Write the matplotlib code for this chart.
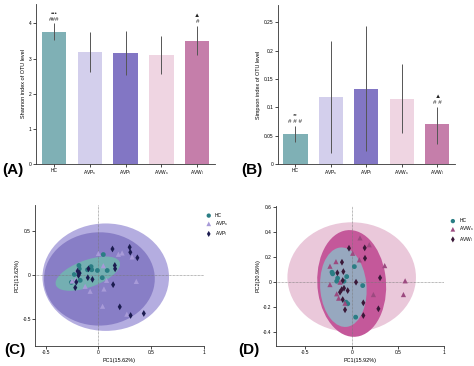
import numpy as np
import matplotlib
matplotlib.use("Agg")
import matplotlib.pyplot as plt
from matplotlib.patches import Ellipse

plt.rcParams['font.family'] = ['Liberation Sans', 'DejaVu Sans']

# Bar data
groups = ['HC', 'AVP$_s$', 'AVP$_l$', 'AVW$_s$', 'AVW$_l$']
bar_colors = ['#7fb0b5', '#d3cfec', '#8276c4', '#efd5e2', '#c57eaa']

shannon_mean = [3.75, 3.19, 3.15, 3.10, 3.51]
shannon_low = [3.53, 2.62, 2.52, 2.55, 3.10]
shannon_high = [4.00, 3.76, 3.78, 3.65, 3.93]
shannon_marks = {0: ['•••', '###'], 4: ['▲', '#']}

simpson_mean = [0.052, 0.118, 0.133, 0.115, 0.070]
simpson_low = [0.038, 0.020, 0.022, 0.055, 0.036]
simpson_high = [0.067, 0.217, 0.244, 0.176, 0.101]
simpson_marks = {0: ['**', '# # #'], 4: ['▲', '# #']}

# PCoA panel C
c_hc_x = [0.047, -0.184, -0.181, -0.069, -0.063, -0.009, 0.084, 0.037, -0.228, -0.172, -0.256, -0.103]
c_hc_y = [0.237, 0.113, 0.075, 0.100, 0.064, 0.056, 0.056, -0.026, 0.011, -0.056, -0.079, 0.064]
c_p1_x = [0.0, 0.19, 0.225, 0.32, 0.047, 0.078, 0.053, 0.36, 0.04, 0.27, -0.078, -0.125, -0.25, -0.216, -0.2]
c_p1_y = [0.25, 0.24, 0.255, 0.21, 0.11, -0.056, -0.154, -0.068, -0.35, -0.44, -0.18, -0.124, -0.064, -0.05, 0.064]
c_p2_x = [0.134, 0.297, 0.303, 0.37, 0.156, 0.159, 0.14, 0.203, 0.306, 0.431, -0.1, -0.056, -0.094, -0.197, -0.188, -0.209, -0.219, -0.178]
c_p2_y = [0.30, 0.32, 0.263, 0.20, 0.113, 0.075, -0.105, -0.357, -0.455, -0.432, -0.026, -0.045, 0.075, 0.049, 0.0, -0.075, -0.139, 0.026]
# ellipses: centre x, centre y, width, height, angle
c_ell_p1 = [0.07, -0.02, 1.2, 1.22, 0]
c_ell_p2 = [0.01, -0.04, 1.05, 1.06, -12]
c_ell_hc = [-0.1, 0.02, 0.66, 0.3, 25]

# PCoA panel D
d_hc_x = [0.029, -0.213, -0.206, -0.162, -0.054, -0.083, 0.119, -0.061, -0.043, 0.043, -0.152]
d_hc_y = [0.125, 0.08, 0.067, 0.008, 0.045, 0.008, -0.027, -0.16, -0.173, -0.28, 0.032]
d_w1_x = [0.09, 0.19, 0.011, 0.083, 0.357, 0.578, 0.56, 0.235, -0.17, -0.235, -0.235, -0.162, -0.141, -0.072, -0.126]
d_w1_y = [0.355, 0.30, 0.232, 0.179, 0.133, 0.011, -0.099, -0.099, 0.165, 0.128, -0.019, -0.093, -0.128, -0.168, 0.0]
d_w2_x = [-0.029, 0.141, 0.144, -0.105, 0.307, 0.047, 0.289, 0.126, 0.126, -0.155, -0.09, -0.097, -0.108, -0.083, -0.126, -0.097, -0.072, -0.043]
d_w2_y = [0.272, 0.275, 0.192, 0.16, 0.035, 0.0, -0.213, -0.165, -0.267, 0.075, 0.085, 0.013, -0.059, -0.048, -0.08, -0.139, -0.221, -0.067]
d_ell_w1 = [0.0, 0.04, 1.39, 0.88, 0]
d_ell_w2 = [0.0, -0.01, 0.74, 0.86, 12]
d_ell_hc = [-0.09, -0.04, 0.5, 0.64, 9]

fig = plt.figure(figsize=(4.74, 3.66), dpi=100)
tick_fs = 3.5
lab_fs = 4


def style_axes(ax):
    for s in ['top', 'right']:
        ax.spines[s].set_visible(False)
    for s in ['left', 'bottom']:
        ax.spines[s].set_linewidth(0.6)
        ax.spines[s].set_color('#333333')
    ax.tick_params(labelsize=tick_fs, width=0.5, length=2, pad=1)


def bar_panel(rect, means, low, high, marks, ylim, yticks, ylabel):
    ax = fig.add_axes(rect)
    x = np.arange(len(groups))
    ax.bar(x, means, width=0.68, color=bar_colors)
    m = np.array(means)
    err = [m - np.array(low), np.array(high) - m]
    ax.errorbar(x, means, yerr=err, fmt='none', ecolor='#555555', elinewidth=0.7, capsize=0)
    for i, lines in marks.items():
        step = (ylim[1] - ylim[0]) * 0.035
        ax.text(i, high[i] + step * 0.3, lines[1], ha='center', va='bottom', fontsize=4.5, color='#222222')
        ax.text(i, high[i] + step * 1.35, lines[0], ha='center', va='bottom', fontsize=4.5, color='#222222')
    ax.set_xlim(-0.5, len(groups) - 0.5)
    ax.set_ylim(*ylim)
    ax.set_yticks(yticks)
    ax.set_xticks(x)
    ax.set_xticklabels(groups)
    ax.set_ylabel(ylabel, fontsize=lab_fs, labelpad=2)
    style_axes(ax)
    return ax


ax = bar_panel([0.076, 0.552, 0.378, 0.437], shannon_mean, shannon_low, shannon_high,
               shannon_marks, (0, 4.55), [0, 1, 2, 3, 4], 'Shannon index of OTU level')
ax.set_yticklabels(['0', '1', '2', '3', '4'])
ax = bar_panel([0.586, 0.552, 0.374, 0.434], simpson_mean, simpson_low, simpson_high,
               simpson_marks, (0, 0.28), [0, 0.05, 0.1, 0.15, 0.2, 0.25], 'Simpson index of OTU level')
ax.set_yticklabels(['0', '0.05', '0.1', '0.15', '0.2', '0.25'])


def add_ell(ax, p, color, alpha):
    ax.add_patch(Ellipse((p[0], p[1]), p[2], p[3], angle=p[4], facecolor=color, alpha=alpha,
                         edgecolor='none', zorder=1))


def pcoa_panel(rect, xlim, ylim, yticks, ells, pts, names, xlabel, ylabel, leg_anchor):
    ax = fig.add_axes(rect)
    for p, c, a in ells:
        add_ell(ax, p, c, a)
    ax.axhline(0, color='#777777', lw=0.5, ls=(0, (1, 1)), zorder=2)
    ax.axvline(0, color='#777777', lw=0.5, ls=(0, (1, 1)), zorder=2)
    handles = []
    for (xs, ys, mk, col, ms), nm in zip(pts, names):
        h = ax.scatter(xs, ys, marker=mk, s=ms, color=col, edgecolors='none', zorder=3, label=nm)
        handles.append(h)
    ax.set_xlim(*xlim)
    ax.set_ylim(*ylim)
    ax.set_xticks([-0.5, 0, 0.5, 1])
    ax.set_xticklabels(['-0.5', '0', '0.5', '1'])
    ax.set_yticks(yticks)
    ax.set_xlabel(xlabel, fontsize=lab_fs, labelpad=2)
    ax.set_ylabel(ylabel, fontsize=lab_fs, labelpad=2)
    style_axes(ax)
    fig.legend(handles=handles, loc='upper left', bbox_to_anchor=leg_anchor, frameon=False,
               fontsize=3.5, handletextpad=0.3, labelspacing=0.25, borderpad=0, markerscale=0.9)
    return ax


ax = pcoa_panel([0.074, 0.055, 0.356, 0.385], (-0.6, 1.0), (-0.8, 0.8), [-0.5, 0, 0.5],
                [(c_ell_p1, '#b4ade0', 1.0), (c_ell_p2, '#887ec6', 1.0), (c_ell_hc, '#72b5b0', 0.9)],
                [(c_hc_x, c_hc_y, 'o', '#2a7d84', 12), (c_p1_x, c_p1_y, '^', '#a79ad8', 14),
                 (c_p2_x, c_p2_y, 'd', '#1c1c50', 12)],
                ['HC', 'AVP$_s$', 'AVP$_l$'], 'PC1(15.62%)', 'PC2(13.62%)', (0.425, 0.425))
ax.set_yticklabels(['-0.5', '0', '0.5'])

ax = pcoa_panel([0.582, 0.055, 0.355, 0.382], (-0.82, 1.0), (-0.51, 0.61), [-0.4, -0.2, 0, 0.2, 0.4, 0.6],
                [(d_ell_w1, '#eac8da', 1.0), (d_ell_w2, '#c4589a', 1.0), (d_ell_hc, '#97a8bf', 1.0)],
                [(d_hc_x, d_hc_y, 'o', '#2a7d84', 12), (d_w1_x, d_w1_y, '^', '#9c4a80', 14),
                 (d_w2_x, d_w2_y, 'd', '#3a1838', 12)],
                ['HC', 'AVW$_s$', 'AVW$_l$'], 'PC1(15.92%)', 'PC2(20.96%)', (0.94, 0.41))
ax.set_yticklabels(['-0.4', '-0.2', '0', '0.2', '0.4', '0.6'])

for lbl, x, y in [('(A)', 0.005, 0.535), ('(B)', 0.508, 0.535), ('(C)', 0.01, 0.045), ('(D)', 0.503, 0.045)]:
    fig.text(x, y, lbl, fontsize=11, fontweight='bold', va='center', ha='left')

fig.savefig('out.png', dpi=100)
